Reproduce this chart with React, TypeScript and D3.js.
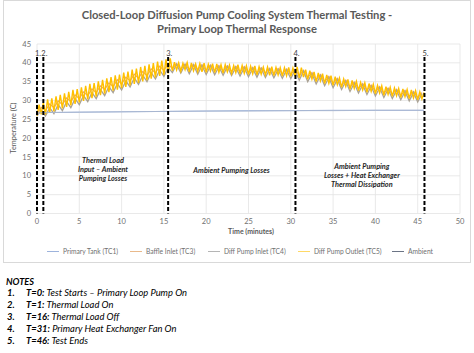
import React, { useEffect, useRef } from 'react';
import * as d3 from 'd3';

const W = 474;
const H = 353;
const FONT = 'Lato, "Open Sans", sans-serif';
const GRID = '#E3E3E3';
const TICK = '#707070';
const X0 = 37, X1 = 460, Y0 = 213.5, Y1 = 44;

const TITLE = ['Closed-Loop Diffusion Pump Cooling System Thermal Testing -', 'Primary Loop Thermal Response'];
const X_TICKS = [0, 5, 10, 15, 20, 25, 30, 35, 40, 45, 50];
const Y_TICKS = [0, 5, 10, 15, 20, 25, 30, 35, 40, 45];

// Diff Pump Outlet (TC5), sampled every 0.25 min
const TC5 = [
  26.0, 28.9, 26.3, 29.4, 26.3, 30.3, 26.7, 30.6, 27.1, 31.1, 27.5, 31.5, 27.9, 31.9, 28.3, 32.3,
  28.7, 32.8, 29.1, 33.0, 29.5, 33.5, 29.9, 33.9, 30.3, 34.4, 30.6, 34.6, 31.0, 35.1, 31.4, 35.5,
  31.8, 35.9, 32.2, 36.2, 32.6, 36.7, 32.9, 36.9, 33.3, 37.4, 33.6, 37.7, 34.0, 38.2, 34.4, 38.5,
  34.7, 38.9, 35.1, 39.2, 35.4, 39.6, 35.8, 39.9, 36.1, 40.3, 36.5, 40.6, 36.8, 40.9, 37.2, 41.2,
  37.9, 40.2, 38.1, 40.0, 37.8, 39.9, 38.2, 40.1, 37.6, 40.0, 37.9, 39.7, 37.7, 39.8, 37.6, 39.9,
  37.5, 39.6, 37.8, 39.8, 37.4, 39.7, 37.5, 39.5, 37.3, 39.5, 37.6, 39.4, 37.2, 39.3, 37.4, 39.5,
  37.1, 39.3, 37.2, 39.2, 36.9, 39.1, 37.1, 39.2, 36.8, 39.0, 37.0, 38.9, 36.8, 38.9, 36.7, 39.0,
  36.6, 38.8, 36.8, 38.7, 36.5, 38.7, 36.6, 38.8, 36.4, 38.6, 36.5, 38.9, 36.0, 38.7, 36.2, 38.2,
  35.6, 37.9, 35.7, 37.6, 35.0, 37.3, 35.2, 37.1, 34.5, 36.8, 34.6, 36.6, 34.0, 36.3, 34.2, 36.0,
  33.5, 35.7, 33.7, 35.6, 33.0, 35.3, 33.2, 35.1, 32.6, 34.8, 32.8, 34.7, 32.2, 34.5, 32.4, 34.3,
  31.8, 34.0, 32.0, 33.9, 31.4, 33.7, 31.6, 33.5, 31.1, 33.3, 31.3, 33.2, 30.8, 33.1, 31.0, 32.9,
  30.5, 32.8, 30.7, 32.6, 30.2, 32.3, 30.4, 32.1,
];

// Diff Pump Inlet (TC4), sampled every 0.5 min
const TC4 = [
  25.9, 27.4, 25.9, 28.1, 26.5, 28.9, 27.3, 29.7, 28.1, 30.5, 28.9, 31.3, 29.7, 32.1, 30.5, 32.9,
  31.3, 33.7, 32.1, 34.5, 32.8, 35.2, 33.6, 36.0, 34.3, 36.7, 35.0, 37.4, 35.7, 38.1, 36.4, 38.8,
  37.4, 39.6, 37.3, 39.5, 37.1, 39.4, 37.0, 39.3, 36.9, 39.2, 36.8, 39.0, 36.7, 39.0, 36.6, 38.8,
  36.5, 38.7, 36.3, 38.5, 36.2, 38.5, 36.1, 38.3, 36.0, 38.2, 35.9, 38.1, 35.8, 38.0, 35.4, 37.8,
  35.0, 37.1, 34.4, 36.6, 33.9, 36.1, 33.4, 35.6, 32.9, 35.1, 32.4, 34.6, 32.0, 34.2, 31.6, 33.8,
  31.2, 33.4, 30.8, 33.0, 30.5, 32.7, 30.2, 32.4, 29.9, 32.1, 29.6, 31.8,
];

// Baffle Inlet (TC3), sampled every 0.5 min
const TC3 = [
  26.4, 28.2, 27.3, 29.1, 28.1, 29.9, 28.9, 30.7, 29.7, 31.5, 30.5, 32.3, 31.3, 33.1, 32.1, 33.9,
  32.9, 34.7, 33.7, 35.5, 34.4, 36.2, 35.2, 37.0, 35.9, 37.7, 36.6, 38.4, 37.3, 39.1, 38.0, 39.8,
  38.4, 39.8, 38.3, 39.7, 38.2, 39.6, 38.1, 39.5, 38.0, 39.4, 37.9, 39.3, 37.8, 39.2, 37.7, 39.1,
  37.6, 39.0, 37.4, 38.8, 37.3, 38.7, 37.2, 38.6, 37.1, 38.5, 37.0, 38.4, 36.9, 38.3, 36.6, 38.0,
  36.1, 37.4, 35.5, 36.9, 35.0, 36.4, 34.5, 35.9, 34.0, 35.4, 33.5, 34.9, 33.1, 34.5, 32.7, 34.1,
  32.3, 33.7, 31.9, 33.3, 31.6, 33.0, 31.3, 32.7, 31.0, 32.4, 30.7, 32.1,
];

const SLOW_T = [0, 1, 5, 10, 15, 20, 25, 30, 35, 40, 45.75];
const TC1 = [26.7, 26.8, 26.9, 27.0, 27.1, 27.2, 27.3, 27.3, 27.4, 27.4, 27.4];
const AMBIENT = [26.7, 26.8, 26.9, 27.0, 27.1, 27.2, 27.2, 27.3, 27.3, 27.4, 27.4];

const SERIES = [
  { name: 'Primary Tank (TC1)', color: '#9DB3DC', width: 1 },
  { name: 'Baffle Inlet (TC3)', color: '#E9A46B', width: 1.2 },
  { name: 'Diff Pump Inlet (TC4)', color: '#ABA395', width: 1.3 },
  { name: 'Diff Pump Outlet (TC5)', color: '#FFC000', width: 1.4 },
  { name: 'Ambient', color: '#A9B7CF', width: 0.9 },
];
const LEGEND_COLORS = ['#9DB3DC', '#E9B98B', '#B5B5B5', '#FFD966', '#6B7485'];
const LEGEND_X = [47, 130, 208, 298, 392];

const MARK_T = [0, 0.75, 15.5, 30.55, 45.8];
const MARK_LABELS = ['1.', '2.', '3.', '4.', '5.'];

const PHASES = [
  { t: 7.8, lines: ['Thermal Load', 'Input \u2013 Ambient', 'Pumping Losses'], y: 160 },
  { t: 23, lines: ['Ambient Pumping Losses'], y: 170 },
  { t: 38.4, lines: ['Ambient Pumping', 'Losses + Heat Exchanger', 'Thermal Dissipation'], y: 166 },
];

const NOTE_NUMS = ['1.', '2.', '3.', '4.', '5.'];
const NOTE_KEYS = ['T=0:', 'T=1:', 'T=16:', 'T=31:', 'T=46:'];
const NOTE_TEXT = [
  'Test Starts \u2013 Primary Loop Pump On',
  'Thermal Load On',
  'Thermal Load Off',
  'Primary Heat Exchanger Fan On',
  'Test Ends',
];

const App: React.FC = () => {
  const svgRef = useRef<SVGSVGElement>(null);

  useEffect(() => {
    const svg = d3.select(svgRef.current);
    svg.selectAll('*').remove();

    const x = d3.scaleLinear().domain([0, 50]).range([X0, X1]);
    const y = d3.scaleLinear().domain([0, 45]).range([Y0, Y1]);

    svg.append('rect').attr('width', W).attr('height', H).attr('fill', '#fff');
    // chart frame
    svg.append('rect')
      .attr('x', 3.5).attr('y', 0.5).attr('width', 467).attr('height', 262)
      .attr('fill', 'none').attr('stroke', '#D9D9D9');

    // title
    svg.append('g').selectAll('text').data(TITLE).join('text')
      .attr('x', 237).attr('y', (_, i) => 19 + i * 14)
      .attr('text-anchor', 'middle')
      .attr('font-family', FONT).attr('font-weight', 'bold').attr('font-size', 11.2)
      .attr('fill', '#595959')
      .text(d => d);

    // grid
    const g = svg.append('g');
    g.selectAll('.vg').data(X_TICKS).join('line')
      .attr('x1', d => x(d)).attr('x2', d => x(d))
      .attr('y1', Y1).attr('y2', Y0)
      .attr('stroke', GRID).attr('stroke-width', 0.8);
    g.selectAll('.hg').data(Y_TICKS).join('line')
      .attr('x1', X0).attr('x2', X1)
      .attr('y1', d => y(d)).attr('y2', d => y(d))
      .attr('stroke', GRID).attr('stroke-width', 0.8);

    // tick labels
    svg.append('g').selectAll('text').data(X_TICKS).join('text')
      .attr('x', d => x(d)).attr('y', 224)
      .attr('text-anchor', 'middle')
      .attr('font-family', FONT).attr('font-size', 7.5).attr('fill', TICK)
      .text(d => d);
    svg.append('g').selectAll('text').data(Y_TICKS).join('text')
      .attr('x', 31).attr('y', d => y(d) + 2.6)
      .attr('text-anchor', 'end')
      .attr('font-family', FONT).attr('font-size', 7.5).attr('fill', TICK)
      .text(d => d);

    // axis titles
    svg.append('text')
      .attr('transform', 'translate(16,128) rotate(-90)')
      .attr('text-anchor', 'middle')
      .attr('font-family', FONT).attr('font-size', 7.3).attr('fill', '#595959')
      .text('Temperature (C)');
    svg.append('text')
      .attr('x', 251).attr('y', 233.5)
      .attr('text-anchor', 'middle')
      .attr('font-family', FONT).attr('font-weight', 'bold').attr('font-size', 7).attr('fill', '#595959')
      .text('Time (minutes)');

    // series
    const line = d3.line<[number, number]>().x(d => x(d[0])).y(d => y(d[1]));
    const pts = (vals: number[], step: number) => vals.map((v, i) => [i * step, v] as [number, number]);
    const slow = (vals: number[]) => vals.map((v, i) => [SLOW_T[i], v] as [number, number]);

    const drawn: [number, number][][] = [
      slow(TC1),
      pts(TC3, 0.5),
      pts(TC4, 0.5),
      pts(TC5, 0.25),
      slow(AMBIENT),
    ];
    drawn.forEach((data, i) => {
      svg.append('path')
        .datum(data)
        .attr('fill', 'none')
        .attr('stroke', SERIES[i].color)
        .attr('stroke-width', SERIES[i].width)
        .attr('stroke-linejoin', 'miter')
        .attr('d', line);
    });

    // event markers
    svg.append('g').selectAll('line').data(MARK_T).join('line')
      .attr('x1', d => x(d)).attr('x2', d => x(d))
      .attr('y1', 57).attr('y2', Y0)
      .attr('stroke', '#000').attr('stroke-width', 2)
      .attr('stroke-dasharray', '4,2');
    svg.append('g').selectAll('text').data(MARK_T).join('text')
      .attr('x', d => x(d) - 2).attr('y', 55.5)
      .attr('font-family', FONT).attr('font-size', 7.5).attr('fill', '#404040')
      .text((_, i) => MARK_LABELS[i]);

    // phase annotations
    PHASES.forEach(p => {
      svg.append('g').selectAll('text').data(p.lines).join('text')
        .attr('x', x(p.t)).attr('y', (_, i) => p.y + 2.5 + i * 9.3)
        .attr('text-anchor', 'middle')
        .attr('font-family', FONT).attr('font-weight', 'bold').attr('font-style', 'italic')
        .attr('font-size', 7.3).attr('fill', '#262626')
        .text(d => d);
    });

    // legend
    const lg = svg.append('g');
    SERIES.forEach((s, i) => {
      lg.append('line')
        .attr('x1', LEGEND_X[i]).attr('x2', LEGEND_X[i] + 12)
        .attr('y1', 251.5).attr('y2', 251.5)
        .attr('stroke', LEGEND_COLORS[i]).attr('stroke-width', 1);
      lg.append('text')
        .attr('x', LEGEND_X[i] + 16).attr('y', 254)
        .attr('font-family', FONT).attr('font-size', 6.7).attr('fill', TICK)
        .text(s.name);
    });

    // notes
    svg.append('text')
      .attr('x', 6).attr('y', 284.5)
      .attr('font-family', FONT).attr('font-weight', 'bold').attr('font-style', 'italic')
      .attr('font-size', 9.2).attr('fill', '#000')
      .text('NOTES');
    NOTE_TEXT.forEach((t, i) => {
      const by = 296 + i * 12;
      svg.append('text')
        .attr('x', 7).attr('y', by)
        .attr('font-family', FONT).attr('font-weight', 'bold').attr('font-style', 'italic')
        .attr('font-size', 9.4).attr('fill', '#000')
        .text(NOTE_NUMS[i]);
      const tx = svg.append('text')
        .attr('x', 26).attr('y', by)
        .attr('font-family', FONT).attr('font-style', 'italic')
        .attr('font-size', 9.4).attr('fill', '#000');
      tx.append('tspan').attr('font-weight', 'bold').text(NOTE_KEYS[i]);
      tx.append('tspan').text(' ' + t);
    });
  }, []);

  return (
    <svg
      ref={svgRef}
      width={W}
      height={H}
      style={{ position: 'absolute', left: 0, top: 0, display: 'block' }}
    />
  );
};

export default App;
